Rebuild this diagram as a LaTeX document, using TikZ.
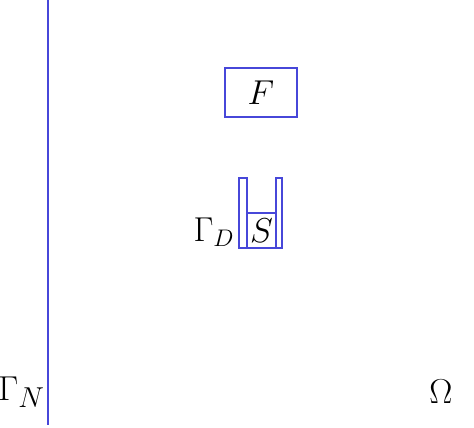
\documentclass[tikz,border=0pt]{standalone}
\usepackage{amssymb}
\usepackage{amsmath}
\usepackage{tikz}

\definecolor{bdry}{rgb}{0.28,0.28,0.85}

\begin{document}
\begin{tikzpicture}[x=0.5pt,y=-0.5pt]
    % Define styles for the boxes and labels
    \tikzstyle{box} = [rectangle, minimum width=36pt, minimum height=24.5pt, inner sep=0pt, text centered, draw=bdry, line width=0.6pt]
    \tikzstyle{cell} = [rectangle, minimum width=14.5pt, minimum height=17.5pt, inner sep=0pt, text centered, draw=bdry, line width=0.6pt]
    \tikzstyle{wall} = [draw=bdry, line width=0.6pt]
    \tikzstyle{lbl} = [inner sep=0pt, font=\fontsize{19}{23}\selectfont]
    \tikzstyle{small lbl} = [inner sep=0pt, font=\fontsize{17}{20}\selectfont]

    % Fix the page size
    \useasboundingbox (0,0) rectangle (474,427);

    % Draw the Neumann boundary
    \coordinate (ntop) at (48,0);
    \coordinate (nbot) at (48,425);
    \draw[wall] (ntop) -- (nbot);
    \node[lbl, anchor=base west] (gammaN) at (-2,400) {$\Gamma_N$};

    % Draw the source box
    \node[box, lbl] (source) at (261,92.5) {$F$};

    % Draw the walls of the sensor
    \draw[wall] (239,178) rectangle (247,248);
    \draw[wall] (276,178) rectangle (282,248);
    \node[cell, lbl] (sensor) at (261.5,230.5) {$S$};
    \node[small lbl, anchor=base east] (gammaD) at (235,241) {$\Gamma_D$};

    % Label the domain
    \node[lbl, anchor=base west] (domain) at (429,403) {$\Omega$};
\end{tikzpicture}
\end{document}
